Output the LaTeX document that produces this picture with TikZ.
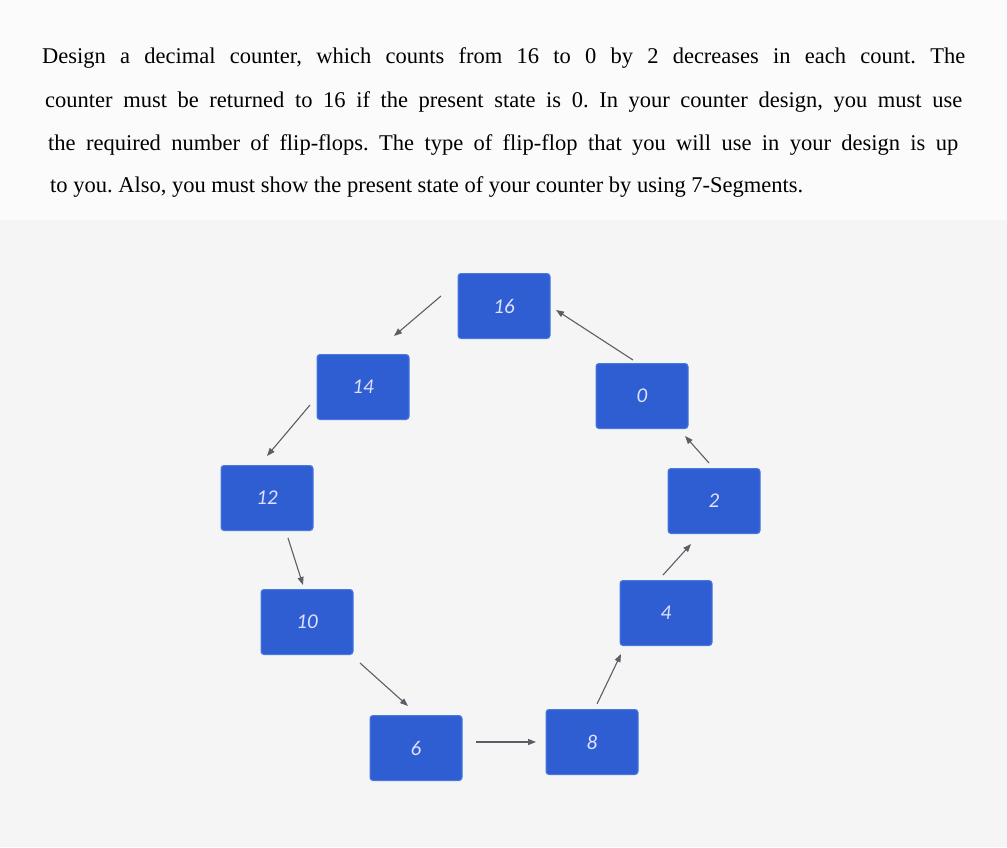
\documentclass[tikz,border=0pt]{standalone}
\usepackage{fontspec}
\setmainfont{Liberation Serif}
\newfontfamily\boxfont{Carlito}
\usetikzlibrary{arrows.meta}
\definecolor{boxblue}{HTML}{2F5ED3}
\definecolor{boxedge}{HTML}{4A78E0}
\definecolor{arrgray}{HTML}{5A5E66}
\frenchspacing
\tikzset{
  state/.style={draw=boxedge, line width=1pt, fill=boxblue, rounded corners=3pt,
    minimum width=92pt, minimum height=65pt, text=white!88!blue,
    font=\boxfont\itshape\fontsize{21}{24}\selectfont},
  arr/.style={draw=arrgray, line width=1.1pt, -{Triangle[length=8pt,width=6pt]}},
  line/.style={anchor=base west, inner sep=0pt, font=\frenchspacing\fontsize{22.5}{26}\selectfont}
}
\begin{document}
\begin{tikzpicture}[x=1pt,y=-1pt]
\useasboundingbox (0,0) rectangle (1007,847);
\fill[gray!8] (0,0) rectangle (1007,847);
\fill[gray!3] (0,0) rectangle (1007,220);
\node[line] (l1) at (42,63) {\hbox to 923pt{Design a decimal counter, which counts from 16 to 0 by 2 decreases in each count. The}};
\node[line] (l2) at (45,107) {\hbox to 917pt{counter must be returned to 16 if the present state is 0. In your counter design, you must use}};
\node[line] (l3) at (48,150) {\hbox to 910pt{the required number of flip-flops. The type of flip-flop that you will use in your design is up}};
\node[line] (l4) at (50,192) {to you. Also, you must show the present state of your counter by using 7-Segments.};

\node[state] (s16) at (504,306) {16};
\node[state] (s14) at (363,387) {14};
\node[state] (s0) at (642,396) {0};
\node[state] (s12) at (267,498) {12};
\node[state] (s2) at (714,501) {2};
\node[state] (s10) at (307,622) {10};
\node[state] (s4) at (666,613) {4};
\node[state] (s6) at (416,748) {6};
\node[state] (s8) at (592,742) {8};

\coordinate (a1) at (441,296); \coordinate (b1) at (394,336);
\coordinate (a2) at (310,405); \coordinate (b2) at (267,456);
\coordinate (a3) at (288,538); \coordinate (b3) at (303,585);
\coordinate (a4) at (360,663); \coordinate (b4) at (408,706);
\coordinate (a5) at (476,742); \coordinate (b5) at (536,742);
\coordinate (a6) at (597,704); \coordinate (b6) at (621,654);
\coordinate (a7) at (663,575); \coordinate (b7) at (691,544);
\coordinate (a8) at (709,463); \coordinate (b8) at (685,436);
\coordinate (a9) at (633,360); \coordinate (b9) at (556,310);
\foreach \i in {1,...,9} \draw[arr] (a\i) -- (b\i);
\end{tikzpicture}
\end{document}
